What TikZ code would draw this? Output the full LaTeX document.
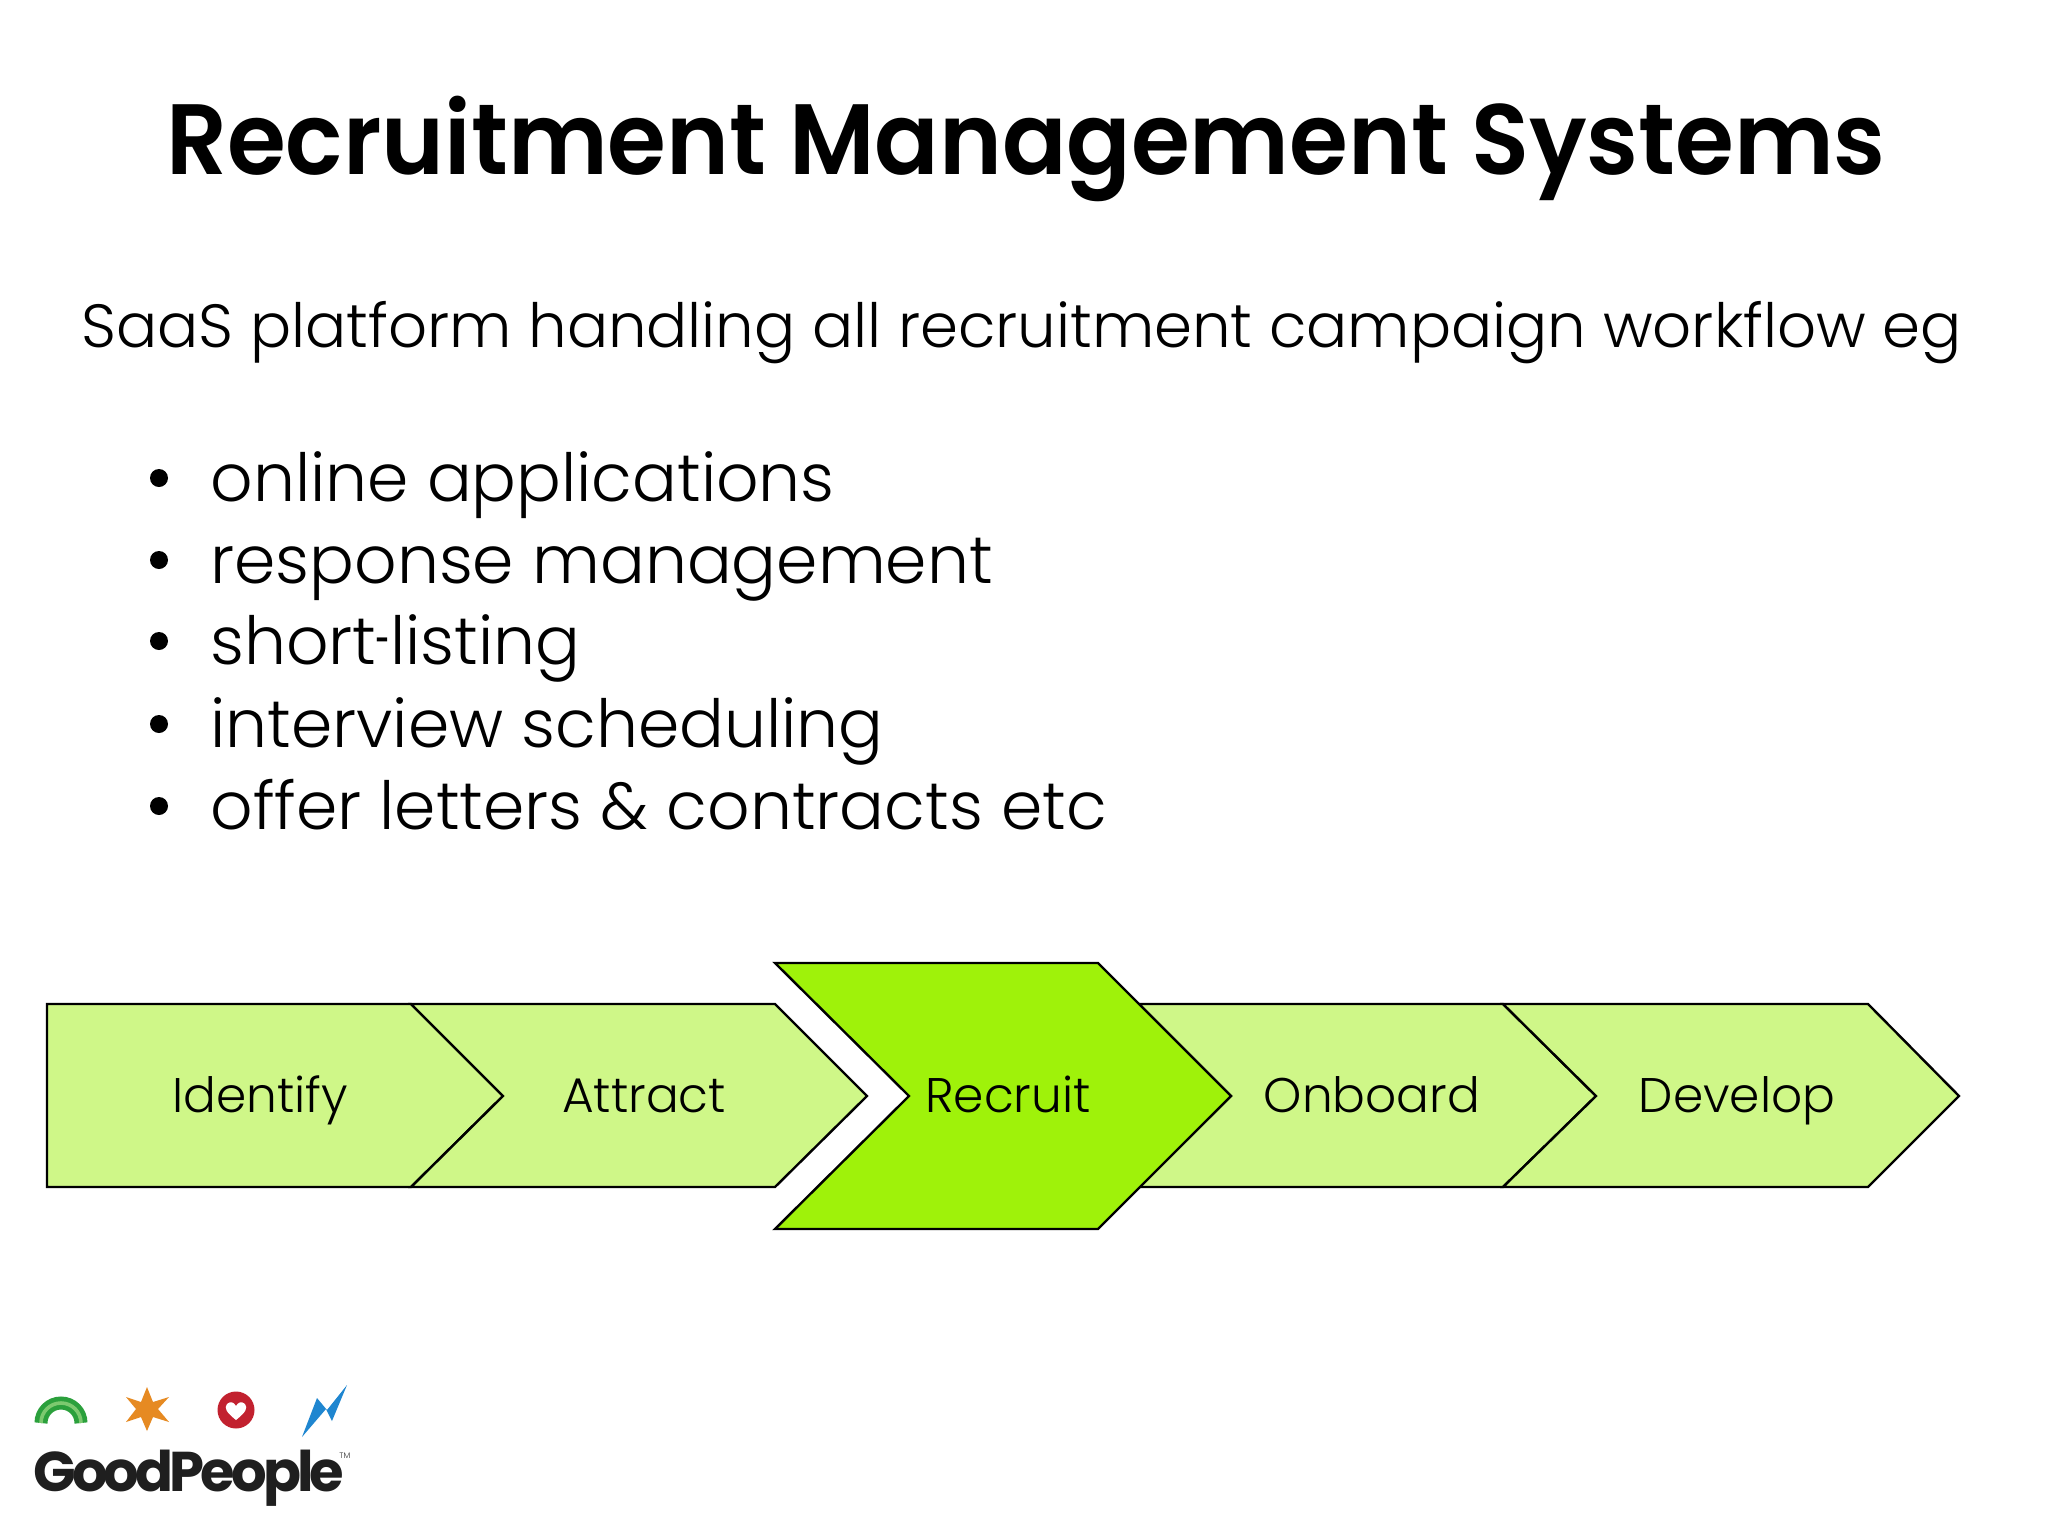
\documentclass[tikz,border=0pt]{standalone}
\usepackage{fontspec}
\setmainfont{Poppins}[UprightFont=* Light,BoldFont=* SemiBold]
\newfontfamily\logofont{Poppins}[UprightFont=* Bold,LetterSpace=-7]
\definecolor{palegreen}{HTML}{CFF788}
\definecolor{brightgreen}{HTML}{9FF20A}
\definecolor{logogreen}{HTML}{2BA03C}
\definecolor{logolight}{HTML}{7CC96F}
\definecolor{logostar}{HTML}{E68A22}
\definecolor{logored}{HTML}{C2212F}
\definecolor{logoblue}{HTML}{1F86D0}
\tikzset{
  x=0.5pt,y=-0.5pt,
  titletext/.style={anchor=base,inner sep=0,font=\fontsize{50}{50}\selectfont\bfseries},
  leadtext/.style={anchor=base west,inner sep=0,font=\fontsize{30.5}{32}\selectfont},
  bullettext/.style={anchor=base west,inner sep=0,font=\fontsize{33.2}{34}\selectfont},
  steptext/.style={anchor=base,inner sep=0,font=\fontsize{24.3}{25}\selectfont},
  chevpale/.style={draw=black,line width=1.2pt,fill=palegreen,miter limit=10},
  chevbright/.style={draw=black,line width=1.2pt,fill=brightgreen,miter limit=10},
}
\begin{document}
\begin{tikzpicture}
\useasboundingbox (0,0) rectangle (2048,1536);
\fill[white] (0,0) rectangle (2048,1536);
\node[titletext] (title) at (1026,174) {\scalebox{.952}[1]{Recruitment Management Systems}};
\node[leadtext] (lead) at (81,347) {SaaS platform handling all recruitment campaign workflow eg};
\foreach \n/\yy/\tx in {a/501/online applications,b/583/response management,c/664/short\scalebox{.4}[1]{-}listing,d/747/interview scheduling,e/829/offer letters \& contracts etc}{
  \fill (159,\yy-23) circle (9);
  \node[bullettext] (item\n) at (210,\yy) {\tx};
}
% chevrons
\draw[chevpale] (47,1004) -- (411,1004) -- (503,1096) -- (411,1187) -- (47,1187) -- cycle;
\draw[chevpale] (411,1004) -- (775,1004) -- (867,1096) -- (775,1187) -- (411,1187) -- (503,1096) -- cycle;
\draw[chevpale] (1139,1004) -- (1503,1004) -- (1596,1096) -- (1503,1187) -- (1139,1187) -- (1231,1096) -- cycle;
\draw[chevpale] (1503,1004) -- (1868,1004) -- (1959,1096) -- (1868,1187) -- (1503,1187) -- (1596,1096) -- cycle;
\draw[chevbright] (775,963) -- (1098,963) -- (1231,1096) -- (1098,1229) -- (775,1229) -- (909,1096) -- cycle;
\node[steptext] (identify) at (260,1112) {Identify};
\node[steptext] (attract) at (644,1112) {Attract};
\node[steptext] (recruit) at (1008,1112) {Recruit};
\node[steptext] (onboard) at (1372,1112) {Onboard};
\node[steptext] (develop) at (1737,1112) {Develop};
% logo
\draw[line width=6.5pt,color=logogreen] (41,1423) arc[start angle=180,end angle=360,radius=20];
\draw[line width=1.8pt,color=logolight] (41,1423) arc[start angle=180,end angle=360,radius=20];
\fill[logostar] (147,1387) -- (153,1402) -- (169,1397) -- (158,1409) -- (169,1422) -- (153,1417) -- (147,1431) -- (141,1417) -- (126,1422) -- (136,1409) -- (126,1397) -- (141,1402) -- cycle;
\fill[logored] (236,1410) circle (18.5);
\fill[white] (236,1420) .. controls (226,1412) and (224,1408) .. (227,1404) .. controls (230,1401) and (234,1402) .. (236,1406) .. controls (238,1402) and (242,1401) .. (245,1404) .. controls (248,1408) and (246,1412) .. (236,1420) -- cycle;
\fill[logoblue] (347,1385) -- (332,1421) -- (326,1409) -- (302,1437) -- (317,1398) -- (327,1410) -- cycle;
\node[anchor=base west,inner sep=0,font=\logofont\fontsize{28}{28}\selectfont,text=black!88] (logo) at (33,1491) {GoodPeople};
\node[anchor=base west,inner sep=0,font=\fontsize{4}{4}\selectfont,text=black!80] (tm) at (339,1458) {TM};
\end{tikzpicture}
\end{document}
